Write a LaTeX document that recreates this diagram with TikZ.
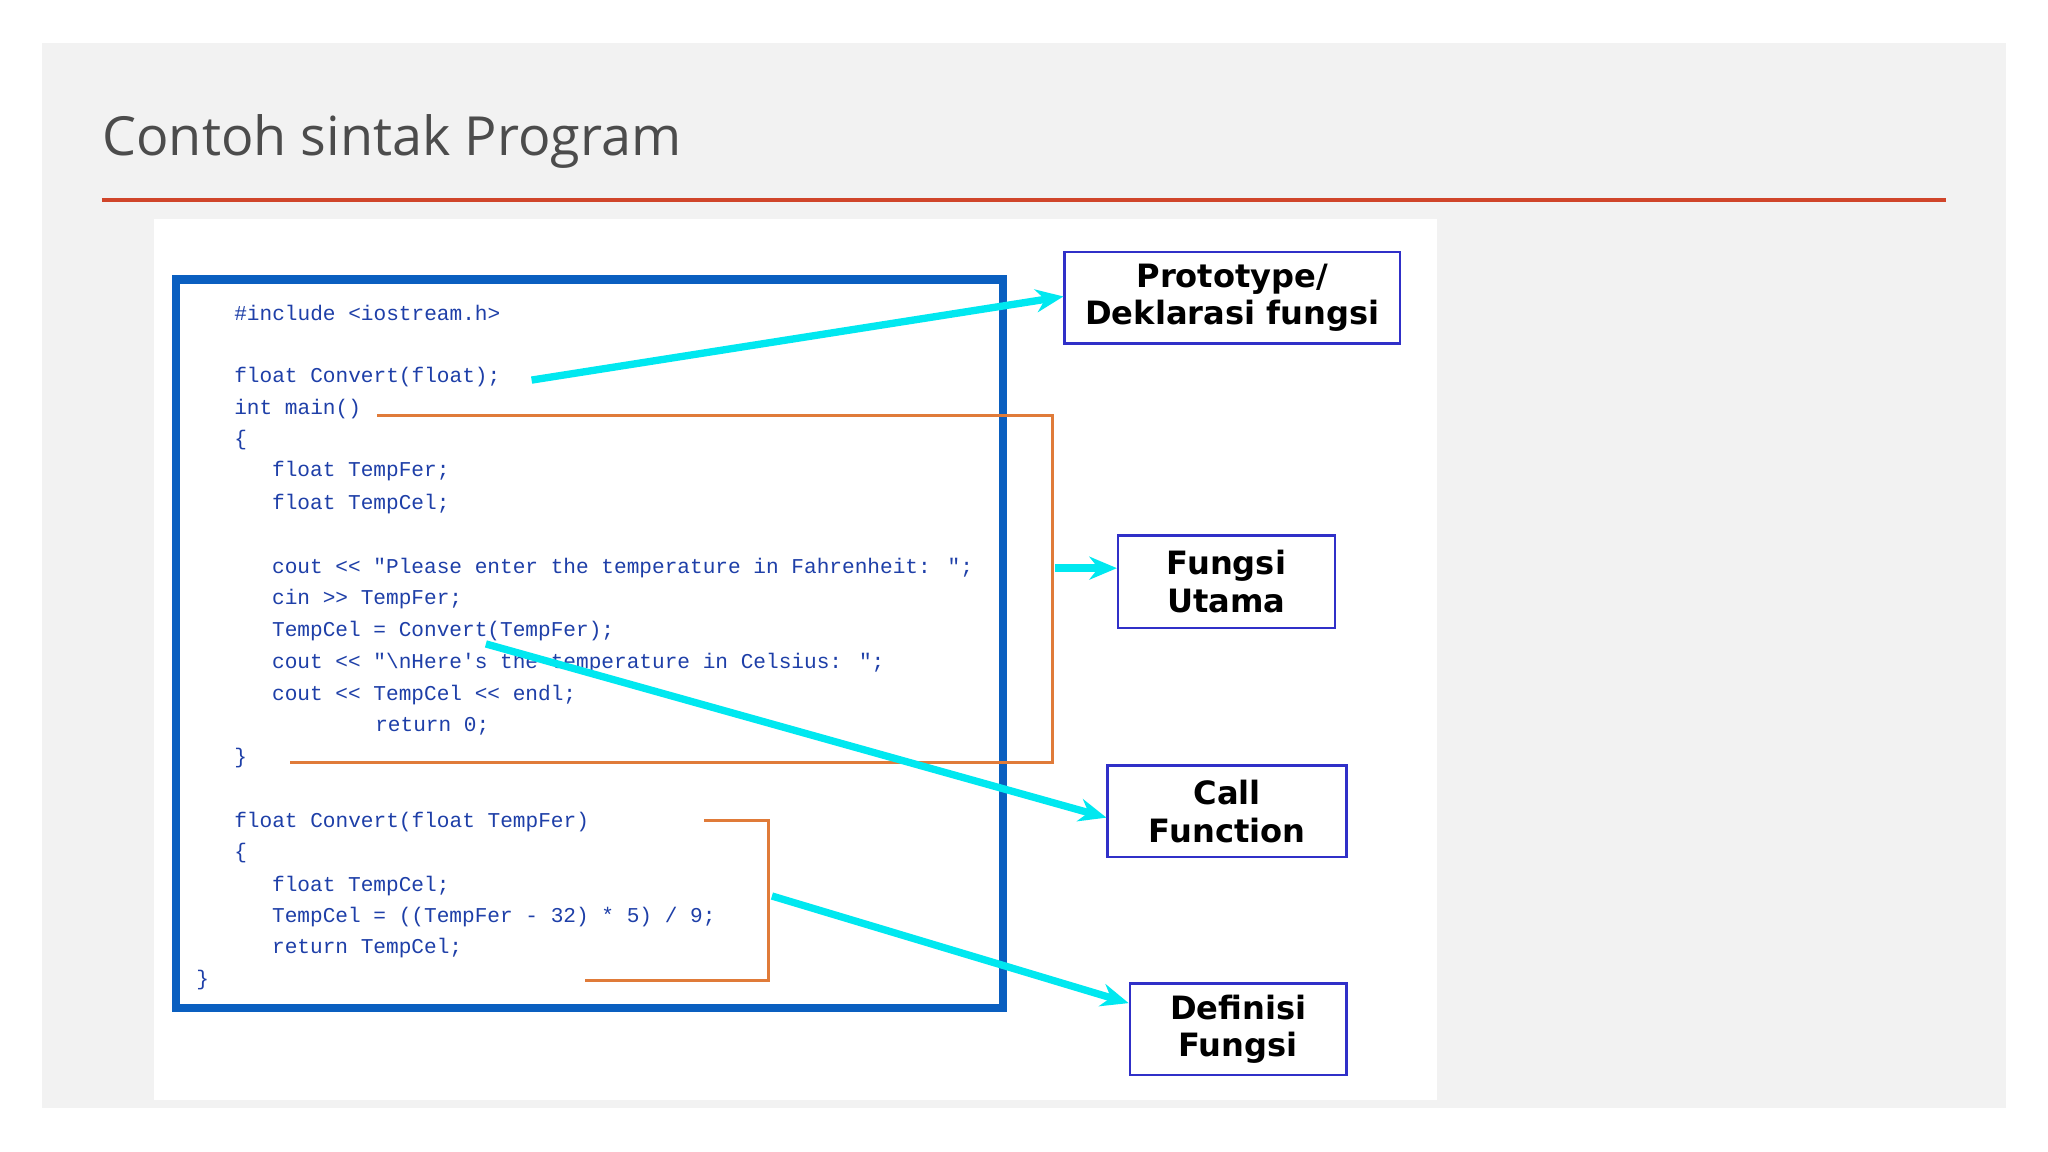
\documentclass[tikz,border=0pt]{standalone}
\usepackage{fontspec}
\setmainfont{DejaVu Sans}
\newfontfamily\codef{Liberation Mono}
\newfontfamily\titlef{Open Sans}
\usetikzlibrary{arrows.meta}
\definecolor{codeblue}{HTML}{1E3FA8}
\definecolor{boxblue}{HTML}{0A5FC0}
\definecolor{lblblue}{HTML}{3030C8}
\definecolor{cyanarr}{HTML}{00E8F0}
\definecolor{orng}{HTML}{E07B39}
\definecolor{redline}{HTML}{D0452A}
\begin{document}
\begin{tikzpicture}[x=0.02cm,y=-0.02cm,
  code/.style={anchor=west,inner sep=0,font=\codef\fontsize{9.2}{11}\selectfont,text=codeblue},
  lbl/.style={draw=lblblue,line width=1pt,fill=white,align=center,font=\bfseries\fontsize{14}{16.5}\selectfont,inner sep=0},
  carr/.style={cyanarr,line width=3.2pt,-{Stealth[length=12pt,width=10pt]}},
  brk/.style={orng,line width=1.3pt}]
\useasboundingbox (0,0) rectangle (1568,882);
\fill[white] (0,0) rectangle (1568,882);
\fill[black!5] (32,33) rectangle (1536,848);
\node[anchor=west,inner sep=0,font=\titlef\fontsize{23.5}{28}\selectfont,text=black!70] (title) at (78,108) {Contoh sintak Program};
\draw[redline,line width=2pt] (78,153) -- (1490,153);
\fill[white] (118,168) rectangle (1100,842);
\draw[boxblue,line width=3.5pt] (135,214) rectangle (768,772);
\node[code] (l1) at (179,240) {\#include <iostream.h>};
\node[code] (l2) at (179,289) {float Convert(float);};
\node[code] (l3) at (179,313) {int main()};
\node[code] (l4) at (179,337) {\{};
\node[code] (l5) at (208,361) {float TempFer;};
\node[code] (l6) at (208,386) {float TempCel;};
\node[code] (l7) at (208,435) {cout << "Please enter the temperature in Fahrenheit: ";};
\node[code] (l8) at (208,459) {cin >> TempFer;};
\node[code] (l9) at (208,483) {TempCel = Convert(TempFer);};
\node[code] (l10) at (208,508) {cout << "\textbackslash nHere's the temperature in Celsius: ";};
\node[code] (l11) at (208,532) {cout << TempCel << endl;};
\node[code] (l12) at (287,556) {return 0;};
\node[code] (l13) at (179,580) {\}};
\node[code] (l14) at (179,629) {float Convert(float TempFer)};
\node[code] (l15) at (179,653) {\{};
\node[code] (l16) at (208,678) {float TempCel;};
\node[code] (l17) at (208,702) {TempCel = ((TempFer - 32) * 5) / 9;};
\node[code] (l18) at (208,726) {return TempCel;};
\node[code] (l19) at (150,750) {\}};
\node[lbl,minimum width=5.14cm,minimum height=1.4cm] (p) at (943.5,228) {Prototype/\\Deklarasi fungsi};
\node[lbl,minimum width=3.32cm,minimum height=1.42cm] (fu) at (939,445.5) {Fungsi\\Utama};
\node[lbl,minimum width=3.66cm,minimum height=1.4cm] (cf) at (939.5,621) {Call\\Function};
\node[lbl,minimum width=3.32cm,minimum height=1.4cm] (df) at (948,788) {Definisi\\Fungsi};
\coordinate (a1) at (407,291);
\coordinate (a2) at (808,435);
\coordinate (a3) at (372,493);
\coordinate (a4) at (591,686);
\draw[brk] (289,318) -- (806,318) -- (806,584) -- (222,584);
\draw[brk] (539,628) -- (588,628) -- (588,751) -- (448,751);
\draw[carr] (a1) -- (p.west |- 0,227);
\draw[carr] (a2) -- (fu.west |- 0,435);
\draw[carr] (a3) -- (cf.south west |- 0,626);
\draw[carr] (a4) -- (df.west |- 0,768);
\end{tikzpicture}
\end{document}
